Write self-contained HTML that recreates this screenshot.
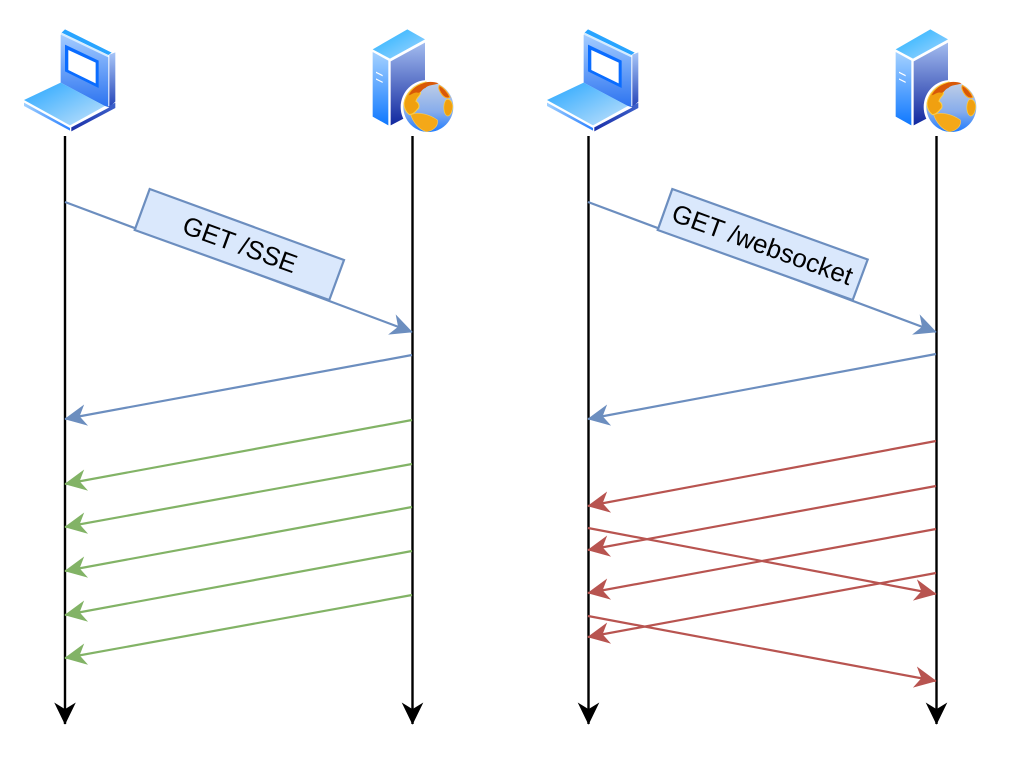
<!DOCTYPE html>
<html>
<head>
<meta charset="utf-8">
<style>
html,body{margin:0;padding:0;background:#fff;width:1014px;height:770px;overflow:hidden}
svg{display:block}
text{font-family:"Liberation Sans",sans-serif;font-size:26px;fill:#000}
</style>
</head>
<body>
<svg xmlns="http://www.w3.org/2000/svg" width="1014" height="770" viewBox="0 0 1014 770">
<defs>
<linearGradient id="gScreen" x1="0" y1="0" x2="0" y2="1"><stop offset="0" stop-color="#a4ccff"/><stop offset="1" stop-color="#2a72f0"/></linearGradient>
<linearGradient id="gInner" x1="0" y1="0" x2="0" y2="1"><stop offset="0" stop-color="#0a6cff"/><stop offset="1" stop-color="#0a6cff"/></linearGradient>
<linearGradient id="gSide" x1="0" y1="0" x2="0" y2="1"><stop offset="0" stop-color="#a8c6f8"/><stop offset="1" stop-color="#2444b8"/></linearGradient>
<linearGradient id="gBase" x1="0" y1="0" x2="1" y2="1"><stop offset="0" stop-color="#25a6ff"/><stop offset="1" stop-color="#c4e2fb"/></linearGradient>
<linearGradient id="gFront" x1="0" y1="0" x2="1" y2="0"><stop offset="0" stop-color="#9fd0ff"/><stop offset="1" stop-color="#2a80ff"/></linearGradient>
<linearGradient id="gDark" x1="0" y1="1" x2="1" y2="0"><stop offset="0" stop-color="#1a2fa8"/><stop offset="1" stop-color="#3f64cc"/></linearGradient>
<linearGradient id="gTop" x1="0" y1="0" x2="1" y2="1"><stop offset="0" stop-color="#1fb0ff"/><stop offset="1" stop-color="#a5d6ff"/></linearGradient>
<linearGradient id="gSrvL" x1="0" y1="0" x2="0" y2="1"><stop offset="0" stop-color="#a6d2ff"/><stop offset="1" stop-color="#0f78ff"/></linearGradient>
<linearGradient id="gSrvR" x1="0" y1="0" x2="0" y2="1"><stop offset="0" stop-color="#a3bcef"/><stop offset="1" stop-color="#10279f"/></linearGradient>
<linearGradient id="gGlobe" x1="0.5" y1="0" x2="0.5" y2="1"><stop offset="0" stop-color="#c0cfe6"/><stop offset="0.6" stop-color="#86acec"/><stop offset="1" stop-color="#1f7cff"/></linearGradient>

<g id="laptop">
  <polygon points="165,28 305,98 295,105 155,38" fill="#28a4ff"/>
  <polygon points="153,38 295,105 295,114 153,46" fill="#d6ecff"/>
  <polygon points="152,44 295,112 295,264 152,188" fill="url(#gScreen)"/>
  <polygon points="165,74 266,122 266,204 165,154" fill="url(#gInner)"/>
  <polygon points="175,90 257,128 257,190 175,150" fill="#fff"/>
  <polygon points="298,104 316,97 316,245 298,262" fill="url(#gSide)"/>
  <polygon points="152,188 285,258 180,316 42,240" fill="url(#gBase)"/>
  <polygon points="40,242 180,320 180,334 40,258" fill="#fff"/>
  <polygon points="42,248 180,324 180,332 42,258" fill="url(#gFront)"/>
  <polygon points="184,320 316,248 316,264 184,334" fill="url(#gDark)"/>
  <polygon points="285,258 298,262 184,322 180,318" fill="#fff"/>
</g>

<g id="server">
  <polygon points="38,88 142,28 195,58 90,116" fill="url(#gTop)"/>
  <polygon points="36,90 90,118 195,60 195,70 92,126 85,122 36,96" fill="#fff"/>
  <polygon points="38,96 85,122 85,316 38,290" fill="url(#gSrvL)"/>
  <polygon points="92,124 195,68 195,262 92,316" fill="url(#gSrvR)"/>
  <polygon points="48,155 68,165 68,169 48,159" fill="#fff"/>
  <polygon points="48,175 68,185 68,189 48,179" fill="#fff"/>
  <circle cx="203" cy="261" r="81" fill="#fff"/>
  <circle cx="205" cy="261" r="75" fill="url(#gGlobe)"/>
  <path d="M132,250 C136,222 160,194 198,186 C200,196 186,204 180,214 C186,226 170,230 168,244 C178,250 180,262 172,268 C166,276 158,284 148,284 C138,276 132,264 132,250 Z" fill="#f0a010" stroke="#ffd040" stroke-width="3"/>
  <path d="M146,226 C156,206 172,194 198,187 C210,184 226,186 236,190 C220,196 204,194 196,204 C184,208 184,220 172,218 C162,216 156,224 146,226 Z" fill="#d85808"/>
  <path d="M238,196 C252,204 264,218 270,232 C258,238 248,228 242,218 C238,210 234,204 238,196 Z" fill="#d85808" stroke="#ffb020" stroke-width="3"/>
  <path d="M258,240 C268,234 276,244 278,258 C278,272 272,288 262,288 C250,282 248,254 258,240 Z" fill="#f0a010" stroke="#ffd040" stroke-width="2"/>
  <path d="M152,284 C176,274 210,284 232,300 C236,316 222,332 200,335 C178,330 160,308 152,284 Z" fill="#f4a818" stroke="#f9c858" stroke-width="2"/>
</g>

<marker id="mBlack" markerUnits="userSpaceOnUse" markerWidth="26" markerHeight="26" refX="22" refY="12" orient="auto"><path d="M2.5,3 L21,12 L2.5,21 L8,12 Z" fill="#000" stroke="#000" stroke-width="1.5"/></marker>
<marker id="mBlue" markerUnits="userSpaceOnUse" markerWidth="26" markerHeight="26" refX="22" refY="12" orient="auto"><path d="M2.5,3 L21,12 L2.5,21 L8,12 Z" fill="#6c8ebf" stroke="#6c8ebf" stroke-width="1.5"/></marker>
<marker id="mGreen" markerUnits="userSpaceOnUse" markerWidth="26" markerHeight="26" refX="22" refY="12" orient="auto"><path d="M2.5,3 L21,12 L2.5,21 L8,12 Z" fill="#82b366" stroke="#82b366" stroke-width="1.5"/></marker>
<marker id="mRed" markerUnits="userSpaceOnUse" markerWidth="26" markerHeight="26" refX="22" refY="12" orient="auto"><path d="M2.5,3 L21,12 L2.5,21 L8,12 Z" fill="#b85450" stroke="#b85450" stroke-width="1.5"/></marker>
</defs>

<use href="#laptop" transform="translate(10,20) scale(0.3333)"/>
<use href="#laptop" transform="translate(533,20) scale(0.3333)"/>
<use href="#server" transform="translate(360,20) scale(0.3333)"/>
<use href="#server" transform="translate(883,20) scale(0.3333)"/>

<g stroke="#000" stroke-width="2.4" fill="none">
  <line x1="65" y1="136" x2="65" y2="724" marker-end="url(#mBlack)"/>
  <line x1="412.5" y1="136" x2="412.5" y2="724" marker-end="url(#mBlack)"/>
  <line x1="588.5" y1="136" x2="588.5" y2="724" marker-end="url(#mBlack)"/>
  <line x1="936.5" y1="136" x2="936.5" y2="724" marker-end="url(#mBlack)"/>
</g>

<g stroke="#6c8ebf" stroke-width="2.2" fill="none">
  <line x1="65" y1="202" x2="412" y2="332" marker-end="url(#mBlue)"/>
  <line x1="412" y1="355" x2="65" y2="419" marker-end="url(#mBlue)"/>
  <line x1="588" y1="202" x2="936" y2="332" marker-end="url(#mBlue)"/>
  <line x1="936" y1="354" x2="588" y2="419" marker-end="url(#mBlue)"/>
</g>

<g stroke="#82b366" stroke-width="2.2" fill="none">
  <line x1="412" y1="420" x2="65" y2="484" marker-end="url(#mGreen)"/>
  <line x1="412" y1="464" x2="65" y2="527" marker-end="url(#mGreen)"/>
  <line x1="412" y1="507" x2="65" y2="571" marker-end="url(#mGreen)"/>
  <line x1="412" y1="551" x2="65" y2="615" marker-end="url(#mGreen)"/>
  <line x1="412" y1="595" x2="65" y2="658" marker-end="url(#mGreen)"/>
</g>

<g stroke="#b85450" stroke-width="2.2" fill="none">
  <line x1="936" y1="441" x2="588" y2="506" marker-end="url(#mRed)"/>
  <line x1="936" y1="486" x2="588" y2="550" marker-end="url(#mRed)"/>
  <line x1="936" y1="529" x2="588" y2="593" marker-end="url(#mRed)"/>
  <line x1="936" y1="573" x2="588" y2="637" marker-end="url(#mRed)"/>
  <line x1="588" y1="528" x2="936" y2="594" marker-end="url(#mRed)"/>
  <line x1="588" y1="616" x2="936" y2="681" marker-end="url(#mRed)"/>
</g>

<polygon points="149.7,189 344,260 329.3,300 134.7,230" fill="#dae8fc" stroke="#6c8ebf" stroke-width="2.2"/>
<text x="240" y="244.5" text-anchor="middle" dominant-baseline="central" transform="rotate(20 240 244.5)">GET /SSE</text>

<polygon points="672.3,189 867.7,259.5 852.7,300 657.7,230" fill="#dae8fc" stroke="#6c8ebf" stroke-width="2.2"/>
<text x="762.5" y="244.5" text-anchor="middle" dominant-baseline="central" transform="rotate(20 762.5 244.5)">GET /websocket</text>
</svg>
</body>
</html>
